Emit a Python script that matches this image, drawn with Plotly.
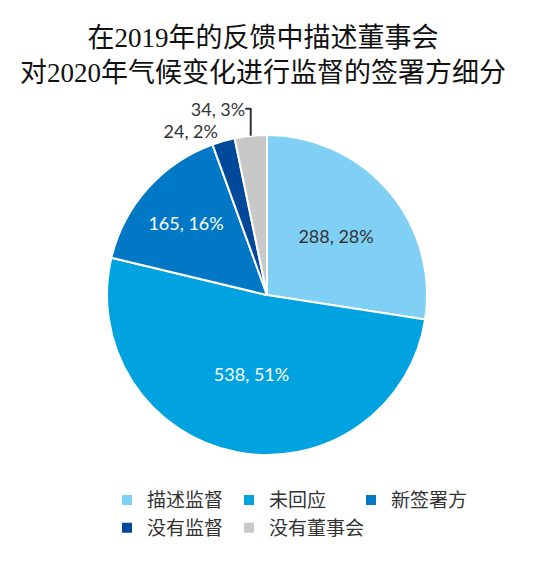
import plotly.graph_objects as go

# Signatories by 2019 response on board oversight of climate change
categories = ["描述监督", "未回应", "新签署方", "没有监督", "没有董事会"]
counts = [288, 538, 165, 24, 34]
# shares as printed on the source chart
pct_labels = ["28%", "51%", "16%", "2%", "3%"]
colors = ["#80CFF4", "#00A3E0", "#0078C6", "#00489A", "#C8C8C8"]
text_colors = ["#333333", "#FFFFFF", "#FFFFFF", "#333333", "#333333"]
text_positions = ["inside", "inside", "inside", "outside", "outside"]

title = "在2019年的反馈中描述董事会<br>对2020年气候变化进行监督的签署方细分"
serif_cjk = "Liberation Serif, Noto Sans CJK SC, serif"

fig = go.Figure()
fig.add_trace(go.Pie(
    labels=categories,
    values=counts,
    customdata=pct_labels,
    sort=False,
    direction="clockwise",
    rotation=0,
    marker=dict(colors=colors, line=dict(color="white", width=2)),
    texttemplate="%{value}, %{customdata}",
    textposition=text_positions,
    insidetextorientation="horizontal",
    textfont=dict(family="Lato, Noto Sans, sans-serif", size=18, color=text_colors),
    outsidetextfont=dict(family="Lato, Noto Sans, sans-serif", size=18, color="#333333"),
    hoverinfo="label+value+percent",
    domain=dict(x=[0.06, 0.86], y=[0.2074, 0.7748]),
))

# Title as a centred two-line annotation so both lines stay inside the page
fig.add_annotation(
    text=title,
    xref="paper", yref="paper",
    x=0.45, y=0.977,
    xanchor="center", yanchor="top",
    showarrow=False,
    align="center",
    font=dict(family=serif_cjk, size=27, color="#111111"),
)

fig.update_layout(
    width=550,
    height=564,
    margin=dict(l=75, r=75, t=0, b=0),
    paper_bgcolor="white",
    plot_bgcolor="white",
    legend=dict(
        orientation="h",
        x=0.06,
        xanchor="left",
        y=0.161,
        yanchor="top",
        font=dict(family=serif_cjk, size=19, color="#333333"),
        entrywidth=77,
        traceorder="normal",
    ),
)

fig.write_html("out.html")
